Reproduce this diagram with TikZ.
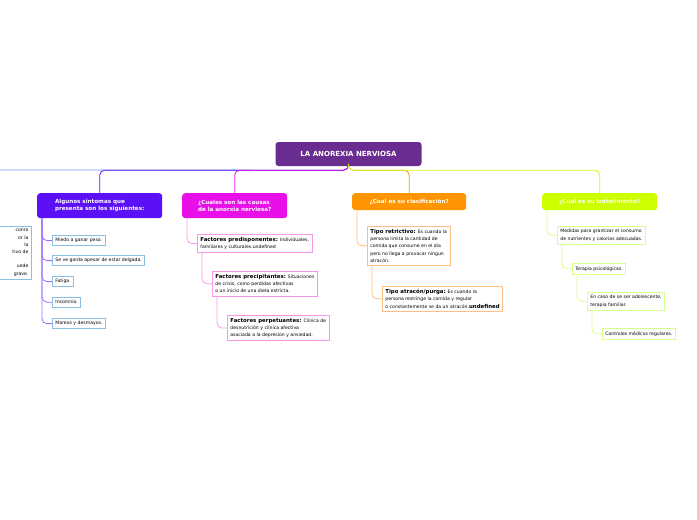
\documentclass[tikz,border=0pt]{standalone}
\usepackage{fontspec}
\setmainfont{DejaVu Sans}
\definecolor{rootPurple}{RGB}{107, 44, 145}
\definecolor{violetBranch}{RGB}{92, 16, 245}
\definecolor{magentaBranch}{RGB}{232, 15, 232}
\definecolor{orangeBranch}{RGB}{255, 149, 0}
\definecolor{limeBranch}{RGB}{204, 255, 0}
\definecolor{blueBranch}{RGB}{110, 160, 240}
\definecolor{leafBlue}{RGB}{140, 190, 225}
\definecolor{leafPink}{RGB}{250, 150, 230}
\definecolor{leafOrange}{RGB}{255, 190, 130}
\definecolor{leafLime}{RGB}{215, 255, 140}
\usetikzlibrary{positioning}
\tikzset{
  branch/.style={rounded corners=3pt,text=white,anchor=north west,align=left,inner sep=4pt,font=\fontsize{5.6}{7}\selectfont\bfseries},
  leaf/.style={draw=#1,fill=white,line width=0.8pt,anchor=north west,align=left,inner sep=3pt,font=\fontsize{4.6}{7.2}\selectfont},
  link/.style={draw=#1,line width=0.8pt,rounded corners=5pt},
}
\begin{document}
\begin{tikzpicture}[x=1pt,y=-1pt]
  \useasboundingbox (0,0) rectangle (697,520);
  \clip (0,0) rectangle (697,520);
  % root
  \node[rounded corners=3pt,fill=rootPurple,text=white,minimum width=146pt,minimum height=24pt,font=\fontsize{7}{8}\selectfont\bfseries] (root) at (348.5,154) {LA ANOREXIA NERVIOSA};
  % branches
  \node[branch,fill=violetBranch,minimum width=125pt,minimum height=25pt] (symptoms) at (37,193) {Algunos sintomas que\\presenta son los siguientes:};
  \node[branch,fill=magentaBranch,minimum width=105pt,minimum height=25pt] (causes) at (182,193) {¿Cuales son las causas\\de la anorxia nerviosa?};
  \node[branch,fill=orangeBranch,minimum width=114pt,minimum height=17pt] (classes) at (352,193) {¿Cual es su clasificación?};
  \node[branch,fill=limeBranch,minimum width=115pt,minimum height=17pt] (treatment) at (542,193) {¿Cual es su tratatimento?};
  % main links
  \draw[link=blueBranch] (root.south) -- ++(0,4) -- (-10,170) |- (-10,230);
  \draw[link=violetBranch] (root.south) -- ++(0,4) -| (symptoms.north);
  \draw[link=magentaBranch] (root.south) -- ++(0,4) -| (causes.north);
  \draw[link=orangeBranch] (root.south) -- ++(0,4) -| (classes.north);
  \draw[link=limeBranch] (root.south) -- ++(0,4) -| (treatment.north);
  % cut-off leaf on the left
  \node[leaf=leafBlue,text width=55pt,align=right] (hidden) at (-30,226) {conro\\or la\\la\\tivo de\\\mbox{}\\uede\\grave.};
  % symptoms
  \node[leaf=leafBlue] (fear) at (52,235) {Miedo a ganar peso.};
  \node[leaf=leafBlue] (fat) at (52,255) {Se ve gorda apesar de estar delgada.};
  \node[leaf=leafBlue] (fatigue) at (52,276) {Fatiga.};
  \node[leaf=leafBlue] (insomnia) at (52,297) {Insomnio.};
  \node[leaf=leafBlue] (dizzy) at (52,318) {Mareos y desmayos.};
  \foreach \n in {fear,fat,fatigue,insomnia,dizzy}
    \draw[link=violetBranch!60] ([xshift=5pt]symptoms.south west) |- (\n.west);
  % causes
  \node[leaf=leafPink] (predisp) at (197,234) {{\fontsize{5.4}{7}\selectfont\bfseries Factores predisponentes:} Individuales,\\familiares y culturales.undefined};
  \node[leaf=leafPink] (precip) at (212,271) {{\fontsize{5.4}{7}\selectfont\bfseries Factores precipitantes:} Situaciones\\de crisis, como perdidas afectivas\\o un inicio de una dieta estricta.};
  \node[leaf=leafPink] (perpet) at (227,315) {{\fontsize{5.4}{7}\selectfont\bfseries Factores perpetuantes:} Clínica de\\desnutrición y clínica afectiva\\asociada a la depresion y ansiedad.};
  \draw[link=leafPink] ([xshift=5pt]causes.south west) |- (predisp.west);
  \draw[link=leafPink] ([xshift=5pt]predisp.south west) |- (precip.west);
  \draw[link=leafPink] ([xshift=5pt]precip.south west) |- (perpet.west);
  % classification
  \node[leaf=leafOrange] (restrict) at (367,226) {{\fontsize{5.4}{7}\selectfont\bfseries Tipo retrictivo:} Es cuando la\\persona limita la cantidad de\\comida que consume en el dia\\pero no llega a provocar ningun\\atracón.};
  \node[leaf=leafOrange] (binge) at (382,286) {{\fontsize{5.4}{7}\selectfont\bfseries Tipo atracón/purga:} Es cuando la\\persona restringe la comida y regular\\o constantemente se da un atracón.{\fontsize{5.4}{7}\selectfont\bfseries undefined}};
  \draw[link=leafOrange] ([xshift=5pt]classes.south west) |- (restrict.west);
  \draw[link=leafOrange] ([xshift=5pt]restrict.south west) |- (binge.west);
  % treatment
  \node[leaf=leafLime] (measures) at (557,226) {Medidas para grantizar el consumo\\de nutrientes y calorias adecuadas.};
  \node[leaf=leafLime] (therapy) at (572,263) {Terapia psicológicas.};
  \node[leaf=leafLime] (family) at (587,292) {En caso de se ser adolescente,\\terapia familiar.};
  \node[leaf=leafLime] (checks) at (602,328) {Controles médicos regulares.};
  \draw[link=leafLime] ([xshift=5pt]treatment.south west) |- (measures.west);
  \draw[link=leafLime] ([xshift=5pt]measures.south west) |- (therapy.west);
  \draw[link=leafLime] ([xshift=5pt]therapy.south west) |- (family.west);
  \draw[link=leafLime] ([xshift=5pt]family.south west) |- (checks.west);
\end{tikzpicture}
\end{document}
